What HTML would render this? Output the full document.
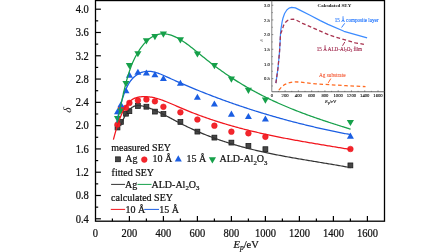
<!DOCTYPE html>
<html><head><meta charset="utf-8"><style>
html,body{margin:0;padding:0;background:#fff;}
svg{display:block;}
text{font-family:"Liberation Serif","Times New Roman",serif;}

</style></head><body>
<svg width="448" height="252" viewBox="0 0 448 252">
<rect width="448" height="252" fill="#fff"/>
<rect x="95.5" y="0.55" width="289.0" height="220.64999999999998" fill="none" stroke="#000" stroke-width="1.3"/>
<line x1="95.5" y1="218.79" x2="100.9" y2="218.79" stroke="#000" stroke-width="1.2"/>
<text transform="translate(88.85,222.54) scale(1,1.1)" text-anchor="end" font-size="10.5" fill="#111" stroke="#111" stroke-width="0.22">0.4</text>
<line x1="95.5" y1="195.5" x2="100.9" y2="195.5" stroke="#000" stroke-width="1.2"/>
<text transform="translate(88.85,199.25) scale(1,1.1)" text-anchor="end" font-size="10.5" fill="#111" stroke="#111" stroke-width="0.22">0.8</text>
<line x1="95.5" y1="172.22" x2="100.9" y2="172.22" stroke="#000" stroke-width="1.2"/>
<text transform="translate(88.85,175.97) scale(1,1.1)" text-anchor="end" font-size="10.5" fill="#111" stroke="#111" stroke-width="0.22">1.2</text>
<line x1="95.5" y1="148.93" x2="100.9" y2="148.93" stroke="#000" stroke-width="1.2"/>
<text transform="translate(88.85,152.68) scale(1,1.1)" text-anchor="end" font-size="10.5" fill="#111" stroke="#111" stroke-width="0.22">1.6</text>
<line x1="95.5" y1="125.64" x2="100.9" y2="125.64" stroke="#000" stroke-width="1.2"/>
<text transform="translate(88.85,129.39) scale(1,1.1)" text-anchor="end" font-size="10.5" fill="#111" stroke="#111" stroke-width="0.22">2.0</text>
<line x1="95.5" y1="102.35" x2="100.9" y2="102.35" stroke="#000" stroke-width="1.2"/>
<text transform="translate(88.85,106.1) scale(1,1.1)" text-anchor="end" font-size="10.5" fill="#111" stroke="#111" stroke-width="0.22">2.4</text>
<line x1="95.5" y1="79.06" x2="100.9" y2="79.06" stroke="#000" stroke-width="1.2"/>
<text transform="translate(88.85,82.81) scale(1,1.1)" text-anchor="end" font-size="10.5" fill="#111" stroke="#111" stroke-width="0.22">2.8</text>
<line x1="95.5" y1="55.78" x2="100.9" y2="55.78" stroke="#000" stroke-width="1.2"/>
<text transform="translate(88.85,59.53) scale(1,1.1)" text-anchor="end" font-size="10.5" fill="#111" stroke="#111" stroke-width="0.22">3.2</text>
<line x1="95.5" y1="32.49" x2="100.9" y2="32.49" stroke="#000" stroke-width="1.2"/>
<text transform="translate(88.85,36.24) scale(1,1.1)" text-anchor="end" font-size="10.5" fill="#111" stroke="#111" stroke-width="0.22">3.6</text>
<line x1="95.5" y1="9.2" x2="100.9" y2="9.2" stroke="#000" stroke-width="1.2"/>
<text transform="translate(88.85,12.95) scale(1,1.1)" text-anchor="end" font-size="10.5" fill="#111" stroke="#111" stroke-width="0.22">4.0</text>
<line x1="95.5" y1="207.15" x2="98.2" y2="207.15" stroke="#000" stroke-width="1.2"/>
<line x1="95.5" y1="183.86" x2="98.2" y2="183.86" stroke="#000" stroke-width="1.2"/>
<line x1="95.5" y1="160.57" x2="98.2" y2="160.57" stroke="#000" stroke-width="1.2"/>
<line x1="95.5" y1="137.28" x2="98.2" y2="137.28" stroke="#000" stroke-width="1.2"/>
<line x1="95.5" y1="114" x2="98.2" y2="114" stroke="#000" stroke-width="1.2"/>
<line x1="95.5" y1="90.71" x2="98.2" y2="90.71" stroke="#000" stroke-width="1.2"/>
<line x1="95.5" y1="67.42" x2="98.2" y2="67.42" stroke="#000" stroke-width="1.2"/>
<line x1="95.5" y1="44.13" x2="98.2" y2="44.13" stroke="#000" stroke-width="1.2"/>
<line x1="95.5" y1="20.84" x2="98.2" y2="20.84" stroke="#000" stroke-width="1.2"/>
<line x1="95.5" y1="-2.44" x2="98.2" y2="-2.44" stroke="#000" stroke-width="1.2"/>
<line x1="129.4" y1="221.2" x2="129.4" y2="216.0" stroke="#000" stroke-width="1.2"/>
<line x1="163.4" y1="221.2" x2="163.4" y2="216.0" stroke="#000" stroke-width="1.2"/>
<line x1="197.4" y1="221.2" x2="197.4" y2="216.0" stroke="#000" stroke-width="1.2"/>
<line x1="231.4" y1="221.2" x2="231.4" y2="216.0" stroke="#000" stroke-width="1.2"/>
<line x1="265.4" y1="221.2" x2="265.4" y2="216.0" stroke="#000" stroke-width="1.2"/>
<line x1="299.4" y1="221.2" x2="299.4" y2="216.0" stroke="#000" stroke-width="1.2"/>
<line x1="333.4" y1="221.2" x2="333.4" y2="216.0" stroke="#000" stroke-width="1.2"/>
<line x1="367.4" y1="221.2" x2="367.4" y2="216.0" stroke="#000" stroke-width="1.2"/>
<text transform="translate(95.4,236.6) scale(1,1.1)" text-anchor="middle" font-size="10.5" fill="#111" stroke="#111" stroke-width="0.22">0</text>
<text transform="translate(129.4,236.6) scale(1,1.1)" text-anchor="middle" font-size="10.5" fill="#111" stroke="#111" stroke-width="0.22">200</text>
<text transform="translate(163.4,236.6) scale(1,1.1)" text-anchor="middle" font-size="10.5" fill="#111" stroke="#111" stroke-width="0.22">400</text>
<text transform="translate(197.4,236.6) scale(1,1.1)" text-anchor="middle" font-size="10.5" fill="#111" stroke="#111" stroke-width="0.22">600</text>
<text transform="translate(231.4,236.6) scale(1,1.1)" text-anchor="middle" font-size="10.5" fill="#111" stroke="#111" stroke-width="0.22">800</text>
<text transform="translate(265.4,236.6) scale(1,1.1)" text-anchor="middle" font-size="10.5" fill="#111" stroke="#111" stroke-width="0.22">1000</text>
<text transform="translate(299.4,236.6) scale(1,1.1)" text-anchor="middle" font-size="10.5" fill="#111" stroke="#111" stroke-width="0.22">1200</text>
<text transform="translate(333.4,236.6) scale(1,1.1)" text-anchor="middle" font-size="10.5" fill="#111" stroke="#111" stroke-width="0.22">1400</text>
<text transform="translate(367.4,236.6) scale(1,1.1)" text-anchor="middle" font-size="10.5" fill="#111" stroke="#111" stroke-width="0.22">1600</text>
<line x1="112.4" y1="221.2" x2="112.4" y2="218.6" stroke="#000" stroke-width="1.2"/>
<line x1="146.4" y1="221.2" x2="146.4" y2="218.6" stroke="#000" stroke-width="1.2"/>
<line x1="180.4" y1="221.2" x2="180.4" y2="218.6" stroke="#000" stroke-width="1.2"/>
<line x1="214.4" y1="221.2" x2="214.4" y2="218.6" stroke="#000" stroke-width="1.2"/>
<line x1="248.4" y1="221.2" x2="248.4" y2="218.6" stroke="#000" stroke-width="1.2"/>
<line x1="282.4" y1="221.2" x2="282.4" y2="218.6" stroke="#000" stroke-width="1.2"/>
<line x1="316.4" y1="221.2" x2="316.4" y2="218.6" stroke="#000" stroke-width="1.2"/>
<line x1="350.4" y1="221.2" x2="350.4" y2="218.6" stroke="#000" stroke-width="1.2"/>
<text x="233.5" y="247.7" font-size="10.5" fill="#111" stroke="#111" stroke-width="0.22"><tspan font-style="italic">E</tspan><tspan font-size="7.5" font-style="italic" dy="2.6">p</tspan><tspan dy="-2.6">/eV</tspan></text>
<text transform="translate(70.8,110.5) rotate(-90) skewX(-8)" text-anchor="middle" font-size="11" fill="#111" font-style="italic">δ</text>
<rect x="115.05" y="125.05" width="4.9" height="4.9" fill="#474747" stroke="#151515" stroke-width="0.7"/>
<rect x="118.45" y="119.45" width="4.9" height="4.9" fill="#474747" stroke="#151515" stroke-width="0.7"/>
<rect x="123.55" y="111.25" width="4.9" height="4.9" fill="#474747" stroke="#151515" stroke-width="0.7"/>
<rect x="126.95" y="108.75" width="4.9" height="4.9" fill="#474747" stroke="#151515" stroke-width="0.7"/>
<rect x="135.45" y="103.55" width="4.9" height="4.9" fill="#474747" stroke="#151515" stroke-width="0.7"/>
<rect x="143.95" y="104.25" width="4.9" height="4.9" fill="#474747" stroke="#151515" stroke-width="0.7"/>
<rect x="152.45" y="109.15" width="4.9" height="4.9" fill="#474747" stroke="#151515" stroke-width="0.7"/>
<rect x="160.95" y="111.55" width="4.9" height="4.9" fill="#474747" stroke="#151515" stroke-width="0.7"/>
<rect x="177.95" y="119.45" width="4.9" height="4.9" fill="#474747" stroke="#151515" stroke-width="0.7"/>
<rect x="194.95" y="129.15" width="4.9" height="4.9" fill="#474747" stroke="#151515" stroke-width="0.7"/>
<rect x="211.95" y="135.15" width="4.9" height="4.9" fill="#474747" stroke="#151515" stroke-width="0.7"/>
<rect x="228.95" y="140.15" width="4.9" height="4.9" fill="#474747" stroke="#151515" stroke-width="0.7"/>
<rect x="245.95" y="143.35" width="4.9" height="4.9" fill="#474747" stroke="#151515" stroke-width="0.7"/>
<rect x="262.95" y="146.75" width="4.9" height="4.9" fill="#474747" stroke="#151515" stroke-width="0.7"/>
<rect x="347.95" y="162.95" width="4.9" height="4.9" fill="#474747" stroke="#151515" stroke-width="0.7"/>
<circle cx="117.5" cy="124.5" r="2.85" fill="#f3262c" stroke="#e8121a" stroke-width="0.5"/>
<circle cx="120.9" cy="108.1" r="2.85" fill="#f3262c" stroke="#e8121a" stroke-width="0.5"/>
<circle cx="126" cy="107.8" r="2.85" fill="#f3262c" stroke="#e8121a" stroke-width="0.5"/>
<circle cx="129.4" cy="102.9" r="2.85" fill="#f3262c" stroke="#e8121a" stroke-width="0.5"/>
<circle cx="137.9" cy="100.4" r="2.85" fill="#f3262c" stroke="#e8121a" stroke-width="0.5"/>
<circle cx="146.4" cy="99.4" r="2.85" fill="#f3262c" stroke="#e8121a" stroke-width="0.5"/>
<circle cx="154.9" cy="101.3" r="2.85" fill="#f3262c" stroke="#e8121a" stroke-width="0.5"/>
<circle cx="163.4" cy="106.8" r="2.85" fill="#f3262c" stroke="#e8121a" stroke-width="0.5"/>
<circle cx="180.4" cy="112.3" r="2.85" fill="#f3262c" stroke="#e8121a" stroke-width="0.5"/>
<circle cx="197.4" cy="119.5" r="2.85" fill="#f3262c" stroke="#e8121a" stroke-width="0.5"/>
<circle cx="214.4" cy="125.7" r="2.85" fill="#f3262c" stroke="#e8121a" stroke-width="0.5"/>
<circle cx="231.4" cy="131.7" r="2.85" fill="#f3262c" stroke="#e8121a" stroke-width="0.5"/>
<circle cx="248.4" cy="133.3" r="2.85" fill="#f3262c" stroke="#e8121a" stroke-width="0.5"/>
<circle cx="265.4" cy="136.8" r="2.85" fill="#f3262c" stroke="#e8121a" stroke-width="0.5"/>
<circle cx="350.4" cy="149" r="2.85" fill="#f3262c" stroke="#e8121a" stroke-width="0.5"/>
<path d="M117.5,108.25 L121,114.35 L114,114.35 Z" fill="#1b5ee2"/>
<path d="M120.9,101.25 L124.4,107.35 L117.4,107.35 Z" fill="#1b5ee2"/>
<path d="M126,87.25 L129.5,93.35 L122.5,93.35 Z" fill="#1b5ee2"/>
<path d="M129.4,71.55 L132.9,77.65 L125.9,77.65 Z" fill="#1b5ee2"/>
<path d="M137.9,68.65 L141.4,74.75 L134.4,74.75 Z" fill="#1b5ee2"/>
<path d="M146.4,69.45 L149.9,75.55 L142.9,75.55 Z" fill="#1b5ee2"/>
<path d="M154.9,71.25 L158.4,77.35 L151.4,77.35 Z" fill="#1b5ee2"/>
<path d="M163.4,74.95 L166.9,81.05 L159.9,81.05 Z" fill="#1b5ee2"/>
<path d="M180.4,79.75 L183.9,85.85 L176.9,85.85 Z" fill="#1b5ee2"/>
<path d="M197.4,93.75 L200.9,99.85 L193.9,99.85 Z" fill="#1b5ee2"/>
<path d="M214.4,100.45 L217.9,106.55 L210.9,106.55 Z" fill="#1b5ee2"/>
<path d="M231.4,110.55 L234.9,116.65 L227.9,116.65 Z" fill="#1b5ee2"/>
<path d="M248.4,112.95 L251.9,119.05 L244.9,119.05 Z" fill="#1b5ee2"/>
<path d="M265.4,115.45 L268.9,121.55 L261.9,121.55 Z" fill="#1b5ee2"/>
<path d="M350.4,132.55 L353.9,138.65 L346.9,138.65 Z" fill="#1b5ee2"/>
<path d="M113.9,116.1 L121.1,116.1 L117.5,122.3 Z" fill="#16a04a"/>
<path d="M117.3,108.4 L124.5,108.4 L120.9,114.6 Z" fill="#16a04a"/>
<path d="M122.4,81.1 L129.6,81.1 L126,87.3 Z" fill="#16a04a"/>
<path d="M125.8,63 L133,63 L129.4,69.2 Z" fill="#16a04a"/>
<path d="M134.3,51.15 L141.5,51.15 L137.9,57.35 Z" fill="#16a04a"/>
<path d="M142.8,38.3 L150,38.3 L146.4,44.5 Z" fill="#16a04a"/>
<path d="M151.3,34 L158.5,34 L154.9,40.2 Z" fill="#16a04a"/>
<path d="M159.8,31.45 L167,31.45 L163.4,37.65 Z" fill="#16a04a"/>
<path d="M176.8,37.3 L184,37.3 L180.4,43.5 Z" fill="#16a04a"/>
<path d="M193.8,51.4 L201,51.4 L197.4,57.6 Z" fill="#16a04a"/>
<path d="M210.8,63.1 L218,63.1 L214.4,69.3 Z" fill="#16a04a"/>
<path d="M227.8,76.6 L235,76.6 L231.4,82.8 Z" fill="#16a04a"/>
<path d="M244.8,87.7 L252,87.7 L248.4,93.9 Z" fill="#16a04a"/>
<path d="M261.8,97.5 L269,97.5 L265.4,103.7 Z" fill="#16a04a"/>
<path d="M346.8,119.9 L354,119.9 L350.4,126.1 Z" fill="#16a04a"/>
<path d="M120.6,125.95 L121.76,122.88 L122.91,120.12 L124.07,117.65 L125.22,115.46 L126.38,113.53 L127.53,111.84 L128.69,110.4 L129.85,109.17 L131,108.15 L132.16,107.31 L133.31,106.66 L134.47,106.16 L135.63,105.82 L136.78,105.6 L137.94,105.51 L139.09,105.52 L140.25,105.62 L141.4,105.8 L142.56,106.03 L143.72,106.32 L144.87,106.64 L146.03,106.98 L147.18,107.34 L148.34,107.73 L149.49,108.14 L150.65,108.57 L151.81,109.02 L152.96,109.49 L154.12,109.97 L155.27,110.48 L156.43,110.99 L157.58,111.52 L158.74,112.07 L159.9,112.62 L161.05,113.19 L162.21,113.77 L163.36,114.35 L164.52,114.95 L165.68,115.55 L166.83,116.16 L167.99,116.77 L169.14,117.38 L170.3,118 L171.45,118.62 L172.61,119.24 L173.77,119.86 L174.92,120.48 L176.08,121.1 L177.23,121.71 L178.39,122.32 L179.54,122.92 L180.7,123.51 L181.86,124.1 L183.01,124.68 L184.17,125.26 L185.32,125.83 L186.48,126.39 L187.64,126.94 L188.79,127.49 L189.95,128.04 L191.1,128.57 L192.26,129.1 L193.41,129.63 L194.57,130.14 L195.73,130.66 L196.88,131.16 L198.04,131.66 L199.19,132.16 L200.35,132.64 L201.5,133.13 L202.66,133.6 L203.82,134.07 L204.97,134.54 L206.13,135 L207.28,135.45 L208.44,135.9 L209.59,136.34 L210.75,136.78 L211.91,137.22 L213.06,137.64 L214.22,138.07 L215.37,138.48 L216.53,138.9 L217.69,139.3 L218.84,139.7 L220,140.1 L221.15,140.49 L222.31,140.88 L223.46,141.27 L224.62,141.64 L225.78,142.02 L226.93,142.39 L228.09,142.75 L229.24,143.11 L230.4,143.47 L231.55,143.82 L232.71,144.17 L233.87,144.51 L235.02,144.85 L236.18,145.19 L237.33,145.52 L238.49,145.85 L239.65,146.17 L240.8,146.49 L241.96,146.8 L243.11,147.12 L244.27,147.42 L245.42,147.73 L246.58,148.03 L247.74,148.33 L248.89,148.62 L250.05,148.91 L251.2,149.2 L252.36,149.48 L253.51,149.76 L254.67,150.04 L255.83,150.32 L256.98,150.59 L258.14,150.86 L259.29,151.12 L260.45,151.38 L261.61,151.64 L262.76,151.9 L263.92,152.15 L265.07,152.41 L266.23,152.66 L267.38,152.9 L268.54,153.15 L269.7,153.39 L270.85,153.63 L272.01,153.86 L273.16,154.1 L274.32,154.33 L275.47,154.56 L276.63,154.79 L277.79,155.01 L278.94,155.24 L280.1,155.46 L281.25,155.68 L282.41,155.9 L283.56,156.12 L284.72,156.33 L285.88,156.55 L287.03,156.76 L288.19,156.97 L289.34,157.18 L290.5,157.38 L291.66,157.59 L292.81,157.8 L293.97,158 L295.12,158.2 L296.28,158.4 L297.43,158.6 L298.59,158.8 L299.75,159 L300.9,159.2 L302.06,159.39 L303.21,159.59 L304.37,159.78 L305.52,159.98 L306.68,160.17 L307.84,160.37 L308.99,160.56 L310.15,160.75 L311.3,160.94 L312.46,161.13 L313.62,161.33 L314.77,161.52 L315.93,161.71 L317.08,161.9 L318.24,162.09 L319.39,162.28 L320.55,162.47 L321.71,162.66 L322.86,162.85 L324.02,163.04 L325.17,163.23 L326.33,163.43 L327.48,163.62 L328.64,163.81 L329.8,164 L330.95,164.2 L332.11,164.39 L333.26,164.59 L334.42,164.78 L335.57,164.98 L336.73,165.18 L337.89,165.38 L339.04,165.58 L340.2,165.78 L341.35,165.98 L342.51,166.18 L343.67,166.39 L344.82,166.59 L345.98,166.8 L347.13,167.01 L348.29,167.22 L349.44,167.43 L350.6,167.64" fill="none" stroke="#333333" stroke-width="1.2" stroke-linejoin="round" stroke-linecap="butt" />
<path d="M113.4,139.65 L114.59,135.1 L115.78,130.85 L116.98,126.9 L118.17,123.23 L119.36,119.85 L120.55,116.75 L121.74,113.92 L122.94,111.36 L124.13,109.06 L125.32,107.01 L126.51,105.21 L127.7,103.64 L128.9,102.29 L130.09,101.14 L131.28,100.17 L132.47,99.36 L133.66,98.69 L134.86,98.16 L136.05,97.73 L137.24,97.4 L138.43,97.14 L139.62,96.94 L140.82,96.79 L142.01,96.68 L143.2,96.61 L144.39,96.59 L145.58,96.6 L146.77,96.66 L147.97,96.75 L149.16,96.88 L150.35,97.04 L151.54,97.23 L152.73,97.45 L153.93,97.7 L155.12,97.98 L156.31,98.29 L157.5,98.62 L158.69,98.98 L159.89,99.35 L161.08,99.75 L162.27,100.17 L163.46,100.6 L164.65,101.05 L165.85,101.51 L167.04,101.99 L168.23,102.47 L169.42,102.97 L170.61,103.48 L171.81,103.99 L173,104.51 L174.19,105.03 L175.38,105.55 L176.57,106.08 L177.77,106.6 L178.96,107.12 L180.15,107.64 L181.34,108.15 L182.53,108.66 L183.73,109.16 L184.92,109.66 L186.11,110.15 L187.3,110.64 L188.49,111.13 L189.69,111.61 L190.88,112.08 L192.07,112.55 L193.26,113.02 L194.45,113.48 L195.65,113.94 L196.84,114.39 L198.03,114.84 L199.22,115.28 L200.41,115.72 L201.61,116.16 L202.8,116.59 L203.99,117.01 L205.18,117.44 L206.37,117.86 L207.56,118.27 L208.76,118.68 L209.95,119.09 L211.14,119.49 L212.33,119.89 L213.52,120.28 L214.72,120.67 L215.91,121.06 L217.1,121.44 L218.29,121.82 L219.48,122.2 L220.68,122.57 L221.87,122.94 L223.06,123.3 L224.25,123.66 L225.44,124.02 L226.64,124.38 L227.83,124.73 L229.02,125.07 L230.21,125.42 L231.4,125.76 L232.6,126.1 L233.79,126.43 L234.98,126.76 L236.17,127.09 L237.36,127.41 L238.56,127.74 L239.75,128.05 L240.94,128.37 L242.13,128.68 L243.32,128.99 L244.52,129.3 L245.71,129.6 L246.9,129.9 L248.09,130.2 L249.28,130.5 L250.48,130.79 L251.67,131.08 L252.86,131.37 L254.05,131.65 L255.24,131.93 L256.44,132.21 L257.63,132.49 L258.82,132.76 L260.01,133.04 L261.2,133.31 L262.39,133.57 L263.59,133.84 L264.78,134.1 L265.97,134.36 L267.16,134.62 L268.35,134.88 L269.55,135.13 L270.74,135.38 L271.93,135.63 L273.12,135.88 L274.31,136.13 L275.51,136.37 L276.7,136.61 L277.89,136.86 L279.08,137.09 L280.27,137.33 L281.47,137.57 L282.66,137.8 L283.85,138.03 L285.04,138.26 L286.23,138.49 L287.43,138.72 L288.62,138.94 L289.81,139.17 L291,139.39 L292.19,139.61 L293.39,139.83 L294.58,140.05 L295.77,140.26 L296.96,140.48 L298.15,140.69 L299.35,140.91 L300.54,141.12 L301.73,141.33 L302.92,141.54 L304.11,141.75 L305.31,141.96 L306.5,142.17 L307.69,142.37 L308.88,142.58 L310.07,142.78 L311.27,142.99 L312.46,143.19 L313.65,143.39 L314.84,143.59 L316.03,143.79 L317.23,143.99 L318.42,144.19 L319.61,144.39 L320.8,144.59 L321.99,144.79 L323.18,144.99 L324.38,145.18 L325.57,145.38 L326.76,145.58 L327.95,145.77 L329.14,145.97 L330.34,146.17 L331.53,146.36 L332.72,146.56 L333.91,146.75 L335.1,146.95 L336.3,147.15 L337.49,147.34 L338.68,147.54 L339.87,147.73 L341.06,147.93 L342.26,148.12 L343.45,148.32 L344.64,148.52 L345.83,148.71 L347.02,148.91 L348.22,149.11 L349.41,149.31 L350.6,149.51" fill="none" stroke="#f2141c" stroke-width="1.25" stroke-linejoin="round" stroke-linecap="butt" />
<path d="M116.8,122.31 L117.97,116.46 L119.15,111.13 L120.32,106.3 L121.5,101.94 L122.67,98.02 L123.85,94.51 L125.02,91.38 L126.2,88.61 L127.37,86.16 L128.55,84 L129.72,82.12 L130.9,80.48 L132.07,79.05 L133.25,77.8 L134.42,76.71 L135.6,75.74 L136.77,74.88 L137.95,74.12 L139.12,73.47 L140.3,72.9 L141.47,72.43 L142.65,72.05 L143.82,71.75 L145,71.52 L146.17,71.38 L147.35,71.3 L148.52,71.29 L149.7,71.34 L150.87,71.46 L152.05,71.63 L153.22,71.85 L154.4,72.12 L155.57,72.43 L156.75,72.78 L157.92,73.17 L159.1,73.59 L160.27,74.04 L161.45,74.51 L162.62,75.01 L163.79,75.52 L164.97,76.04 L166.14,76.57 L167.32,77.11 L168.49,77.64 L169.67,78.18 L170.84,78.71 L172.02,79.24 L173.19,79.77 L174.37,80.29 L175.54,80.81 L176.72,81.33 L177.89,81.85 L179.07,82.37 L180.24,82.88 L181.42,83.39 L182.59,83.9 L183.77,84.41 L184.94,84.91 L186.12,85.41 L187.29,85.91 L188.47,86.41 L189.64,86.9 L190.82,87.39 L191.99,87.88 L193.17,88.37 L194.34,88.85 L195.52,89.34 L196.69,89.82 L197.87,90.29 L199.04,90.77 L200.22,91.24 L201.39,91.71 L202.57,92.18 L203.74,92.65 L204.92,93.11 L206.09,93.57 L207.27,94.03 L208.44,94.49 L209.62,94.94 L210.79,95.4 L211.96,95.85 L213.14,96.3 L214.31,96.74 L215.49,97.19 L216.66,97.63 L217.84,98.07 L219.01,98.5 L220.19,98.94 L221.36,99.37 L222.54,99.8 L223.71,100.23 L224.89,100.65 L226.06,101.08 L227.24,101.5 L228.41,101.92 L229.59,102.34 L230.76,102.75 L231.94,103.16 L233.11,103.58 L234.29,103.98 L235.46,104.39 L236.64,104.79 L237.81,105.2 L238.99,105.6 L240.16,106 L241.34,106.39 L242.51,106.78 L243.69,107.18 L244.86,107.57 L246.04,107.95 L247.21,108.34 L248.39,108.72 L249.56,109.1 L250.74,109.48 L251.91,109.86 L253.09,110.23 L254.26,110.61 L255.44,110.98 L256.61,111.35 L257.78,111.71 L258.96,112.08 L260.13,112.44 L261.31,112.8 L262.48,113.16 L263.66,113.52 L264.83,113.87 L266.01,114.22 L267.18,114.57 L268.36,114.92 L269.53,115.27 L270.71,115.61 L271.88,115.95 L273.06,116.3 L274.23,116.63 L275.41,116.97 L276.58,117.3 L277.76,117.64 L278.93,117.97 L280.11,118.3 L281.28,118.62 L282.46,118.95 L283.63,119.27 L284.81,119.59 L285.98,119.91 L287.16,120.23 L288.33,120.54 L289.51,120.86 L290.68,121.17 L291.86,121.48 L293.03,121.79 L294.21,122.09 L295.38,122.4 L296.56,122.7 L297.73,123 L298.91,123.3 L300.08,123.59 L301.26,123.89 L302.43,124.18 L303.61,124.47 L304.78,124.76 L305.95,125.05 L307.13,125.33 L308.3,125.62 L309.48,125.9 L310.65,126.18 L311.83,126.45 L313,126.73 L314.18,127.01 L315.35,127.28 L316.53,127.55 L317.7,127.82 L318.88,128.09 L320.05,128.35 L321.23,128.62 L322.4,128.88 L323.58,129.14 L324.75,129.4 L325.93,129.65 L327.1,129.91 L328.28,130.16 L329.45,130.41 L330.63,130.66 L331.8,130.91 L332.98,131.16 L334.15,131.4 L335.33,131.64 L336.5,131.89 L337.68,132.13 L338.85,132.36 L340.03,132.6 L341.2,132.83 L342.38,133.07 L343.55,133.3 L344.73,133.53 L345.9,133.76 L347.08,133.98 L348.25,134.21 L349.43,134.43 L350.6,134.65" fill="none" stroke="#1b5ee2" stroke-width="1.25" stroke-linejoin="round" stroke-linecap="butt" />
<path d="M117.2,122.67 L118.37,116.97 L119.55,111.32 L120.72,105.75 L121.89,100.31 L123.06,95.04 L124.24,89.98 L125.41,85.17 L126.58,80.66 L127.76,76.48 L128.93,72.66 L130.1,69.18 L131.27,66 L132.45,63.11 L133.62,60.46 L134.79,58.03 L135.97,55.79 L137.14,53.71 L138.31,51.76 L139.48,49.93 L140.66,48.21 L141.83,46.6 L143,45.1 L144.18,43.7 L145.35,42.41 L146.52,41.22 L147.69,40.12 L148.87,39.12 L150.04,38.22 L151.21,37.41 L152.39,36.68 L153.56,36.04 L154.73,35.49 L155.9,35.01 L157.08,34.62 L158.25,34.3 L159.42,34.06 L160.6,33.89 L161.77,33.79 L162.94,33.76 L164.11,33.79 L165.29,33.88 L166.46,34.04 L167.63,34.25 L168.81,34.52 L169.98,34.84 L171.15,35.21 L172.32,35.63 L173.5,36.09 L174.67,36.6 L175.84,37.15 L177.02,37.74 L178.19,38.37 L179.36,39.03 L180.53,39.72 L181.71,40.45 L182.88,41.21 L184.05,41.99 L185.23,42.8 L186.4,43.63 L187.57,44.48 L188.74,45.35 L189.92,46.24 L191.09,47.15 L192.26,48.07 L193.44,49 L194.61,49.94 L195.78,50.89 L196.95,51.84 L198.13,52.8 L199.3,53.77 L200.47,54.73 L201.65,55.69 L202.82,56.64 L203.99,57.59 L205.16,58.54 L206.34,59.47 L207.51,60.4 L208.68,61.32 L209.86,62.24 L211.03,63.14 L212.2,64.04 L213.37,64.93 L214.55,65.81 L215.72,66.69 L216.89,67.55 L218.07,68.41 L219.24,69.27 L220.41,70.11 L221.58,70.95 L222.76,71.78 L223.93,72.6 L225.1,73.41 L226.28,74.22 L227.45,75.01 L228.62,75.81 L229.79,76.59 L230.97,77.36 L232.14,78.13 L233.31,78.89 L234.49,79.64 L235.66,80.39 L236.83,81.13 L238.01,81.86 L239.18,82.59 L240.35,83.3 L241.52,84.01 L242.7,84.72 L243.87,85.41 L245.04,86.1 L246.22,86.79 L247.39,87.46 L248.56,88.13 L249.73,88.8 L250.91,89.45 L252.08,90.11 L253.25,90.75 L254.43,91.39 L255.6,92.02 L256.77,92.65 L257.94,93.27 L259.12,93.88 L260.29,94.49 L261.46,95.09 L262.64,95.69 L263.81,96.28 L264.98,96.87 L266.15,97.45 L267.33,98.02 L268.5,98.59 L269.67,99.16 L270.85,99.72 L272.02,100.27 L273.19,100.82 L274.36,101.36 L275.54,101.9 L276.71,102.43 L277.88,102.96 L279.06,103.49 L280.23,104.01 L281.4,104.52 L282.57,105.03 L283.75,105.54 L284.92,106.04 L286.09,106.54 L287.27,107.03 L288.44,107.52 L289.61,108 L290.78,108.48 L291.96,108.96 L293.13,109.43 L294.3,109.9 L295.48,110.36 L296.65,110.82 L297.82,111.28 L298.99,111.74 L300.17,112.19 L301.34,112.63 L302.51,113.07 L303.69,113.51 L304.86,113.95 L306.03,114.38 L307.2,114.81 L308.38,115.24 L309.55,115.67 L310.72,116.09 L311.9,116.51 L313.07,116.92 L314.24,117.33 L315.41,117.74 L316.59,118.15 L317.76,118.56 L318.93,118.96 L320.11,119.36 L321.28,119.76 L322.45,120.15 L323.62,120.55 L324.8,120.94 L325.97,121.33 L327.14,121.71 L328.32,122.1 L329.49,122.48 L330.66,122.86 L331.83,123.24 L333.01,123.62 L334.18,124 L335.35,124.37 L336.53,124.75 L337.7,125.12 L338.87,125.49 L340.04,125.86 L341.22,126.23 L342.39,126.6 L343.56,126.97 L344.74,127.33 L345.91,127.7 L347.08,128.06 L348.25,128.42 L349.43,128.79 L350.6,129.15" fill="none" stroke="#16a04a" stroke-width="1.25" stroke-linejoin="round" stroke-linecap="butt" />
<text x="111.3" y="150.9" font-size="10" fill="#111" stroke="#111" stroke-width="0.22">measured SEY</text>
<rect x="115.6" y="156.85" width="4.9" height="4.9" fill="#474747" stroke="#151515" stroke-width="0.7"/>
<text x="125.2" y="162.4" font-size="10" fill="#111" stroke="#111" stroke-width="0.22">Ag</text>
<circle cx="144.3" cy="159.6" r="2.85" fill="#f3262c" stroke="#e8121a" stroke-width="0.5"/>
<text x="152.4" y="162.4" font-size="10" fill="#111" stroke="#111" stroke-width="0.22">10 Å</text>
<path d="M178.3,155.35 L181.8,161.45 L174.8,161.45 Z" fill="#1b5ee2"/>
<text x="186.4" y="162.4" font-size="10" fill="#111" stroke="#111" stroke-width="0.22">15 Å</text>
<path d="M208.8,157.2 L216,157.2 L212.4,163.4 Z" fill="#16a04a"/>
<text x="219.5" y="162.4" font-size="10" fill="#111" stroke="#111" stroke-width="0.22">ALD-Al<tspan font-size="6.8" dy="2.8">2</tspan><tspan dy="-2.8">O</tspan><tspan font-size="6.8" dy="2.8">3</tspan></text>
<text x="111.6" y="176.1" font-size="10" fill="#111" stroke="#111" stroke-width="0.22">fitted SEY</text>
<line x1="111.1" y1="184.4" x2="125" y2="184.4" stroke="#333333" stroke-width="1.0"/>
<text x="125" y="187.5" font-size="10" fill="#111" stroke="#111" stroke-width="0.22">Ag</text>
<line x1="137.5" y1="184.4" x2="151.5" y2="184.4" stroke="#16a04a" stroke-width="1.0"/>
<text x="151.5" y="187.5" font-size="10" fill="#111" stroke="#111" stroke-width="0.22">ALD-Al<tspan font-size="6.8" dy="2.8">2</tspan><tspan dy="-2.8">O</tspan><tspan font-size="6.8" dy="2.8">3</tspan></text>
<text x="111.1" y="201.2" font-size="10" fill="#111" stroke="#111" stroke-width="0.22">calculated SEY</text>
<line x1="110.8" y1="209.4" x2="125.1" y2="209.4" stroke="#f2141c" stroke-width="1.0"/>
<text x="125.6" y="212.8" font-size="10" fill="#111" stroke="#111" stroke-width="0.22">10 Å</text>
<line x1="144.2" y1="209.4" x2="159" y2="209.4" stroke="#1b5ee2" stroke-width="1.0"/>
<text x="159.2" y="212.8" font-size="10" fill="#111" stroke="#111" stroke-width="0.22">15 Å</text>
<line x1="271.8" y1="0.55" x2="271.8" y2="91.75" stroke="#555" stroke-width="0.75"/>
<line x1="271.8" y1="91.75" x2="384.5" y2="91.75" stroke="#555" stroke-width="0.9"/>
<line x1="271.8" y1="78.62" x2="273.3" y2="78.62" stroke="#444" stroke-width="0.6"/>
<text x="269.9" y="80.22" text-anchor="end" font-size="4.7" fill="#111" stroke="#111" stroke-width="0.12">0.5</text>
<line x1="271.8" y1="63.95" x2="273.3" y2="63.95" stroke="#444" stroke-width="0.6"/>
<text x="269.9" y="65.55" text-anchor="end" font-size="4.7" fill="#111" stroke="#111" stroke-width="0.12">1.0</text>
<line x1="271.8" y1="49.28" x2="273.3" y2="49.28" stroke="#444" stroke-width="0.6"/>
<text x="269.9" y="50.88" text-anchor="end" font-size="4.7" fill="#111" stroke="#111" stroke-width="0.12">1.5</text>
<line x1="271.8" y1="34.6" x2="273.3" y2="34.6" stroke="#444" stroke-width="0.6"/>
<text x="269.9" y="36.2" text-anchor="end" font-size="4.7" fill="#111" stroke="#111" stroke-width="0.12">2.0</text>
<line x1="271.8" y1="19.93" x2="273.3" y2="19.93" stroke="#444" stroke-width="0.6"/>
<text x="269.9" y="21.53" text-anchor="end" font-size="4.7" fill="#111" stroke="#111" stroke-width="0.12">2.5</text>
<line x1="271.8" y1="5.25" x2="273.3" y2="5.25" stroke="#444" stroke-width="0.6"/>
<text x="269.9" y="6.85" text-anchor="end" font-size="4.7" fill="#111" stroke="#111" stroke-width="0.12">3.0</text>
<line x1="271.8" y1="85.96" x2="272.8" y2="85.96" stroke="#444" stroke-width="0.6"/>
<line x1="271.8" y1="71.29" x2="272.8" y2="71.29" stroke="#444" stroke-width="0.6"/>
<line x1="271.8" y1="56.61" x2="272.8" y2="56.61" stroke="#444" stroke-width="0.6"/>
<line x1="271.8" y1="41.94" x2="272.8" y2="41.94" stroke="#444" stroke-width="0.6"/>
<line x1="271.8" y1="27.26" x2="272.8" y2="27.26" stroke="#444" stroke-width="0.6"/>
<line x1="271.8" y1="12.59" x2="272.8" y2="12.59" stroke="#444" stroke-width="0.6"/>
<text x="271.83" y="97.4" text-anchor="middle" font-size="4.7" fill="#111" stroke="#111" stroke-width="0.12">0</text>
<line x1="285.1" y1="91.75" x2="285.1" y2="90.35" stroke="#444" stroke-width="0.6"/>
<text x="285.1" y="97.4" text-anchor="middle" font-size="4.7" fill="#111" stroke="#111" stroke-width="0.12">200</text>
<line x1="298.37" y1="91.75" x2="298.37" y2="90.35" stroke="#444" stroke-width="0.6"/>
<text x="298.37" y="97.4" text-anchor="middle" font-size="4.7" fill="#111" stroke="#111" stroke-width="0.12">400</text>
<line x1="311.65" y1="91.75" x2="311.65" y2="90.35" stroke="#444" stroke-width="0.6"/>
<text x="311.65" y="97.4" text-anchor="middle" font-size="4.7" fill="#111" stroke="#111" stroke-width="0.12">600</text>
<line x1="324.92" y1="91.75" x2="324.92" y2="90.35" stroke="#444" stroke-width="0.6"/>
<text x="324.92" y="97.4" text-anchor="middle" font-size="4.7" fill="#111" stroke="#111" stroke-width="0.12">800</text>
<line x1="338.19" y1="91.75" x2="338.19" y2="90.35" stroke="#444" stroke-width="0.6"/>
<text x="338.19" y="97.4" text-anchor="middle" font-size="4.7" fill="#111" stroke="#111" stroke-width="0.12">1000</text>
<line x1="351.46" y1="91.75" x2="351.46" y2="90.35" stroke="#444" stroke-width="0.6"/>
<text x="351.46" y="97.4" text-anchor="middle" font-size="4.7" fill="#111" stroke="#111" stroke-width="0.12">1200</text>
<line x1="364.73" y1="91.75" x2="364.73" y2="90.35" stroke="#444" stroke-width="0.6"/>
<text x="364.73" y="97.4" text-anchor="middle" font-size="4.7" fill="#111" stroke="#111" stroke-width="0.12">1400</text>
<line x1="378.01" y1="91.75" x2="378.01" y2="90.35" stroke="#444" stroke-width="0.6"/>
<text x="378.01" y="97.4" text-anchor="middle" font-size="4.7" fill="#111" stroke="#111" stroke-width="0.12">1600</text>
<line x1="278.47" y1="91.75" x2="278.47" y2="90.85" stroke="#444" stroke-width="0.6"/>
<line x1="291.74" y1="91.75" x2="291.74" y2="90.85" stroke="#444" stroke-width="0.6"/>
<line x1="305.01" y1="91.75" x2="305.01" y2="90.85" stroke="#444" stroke-width="0.6"/>
<line x1="318.28" y1="91.75" x2="318.28" y2="90.85" stroke="#444" stroke-width="0.6"/>
<line x1="331.55" y1="91.75" x2="331.55" y2="90.85" stroke="#444" stroke-width="0.6"/>
<line x1="344.83" y1="91.75" x2="344.83" y2="90.85" stroke="#444" stroke-width="0.6"/>
<line x1="358.1" y1="91.75" x2="358.1" y2="90.85" stroke="#444" stroke-width="0.6"/>
<line x1="371.37" y1="91.75" x2="371.37" y2="90.85" stroke="#444" stroke-width="0.6"/>
<text x="325.1" y="102.5" font-size="4.7" fill="#111" stroke="#111" stroke-width="0.12"><tspan font-style="italic">E</tspan><tspan font-size="3.4" dy="1.1">p</tspan><tspan dy="-1.1">/eV</tspan></text>
<text transform="translate(262.8,40.7) rotate(-90)" text-anchor="middle" font-style="italic" font-size="5" fill="#333">δ</text>
<text x="317.6" y="6.9" font-weight="bold" font-size="4.95" fill="#111">Calculated SEY</text>
<path d="M275.9,83.2 L278,68 L279.5,52 L280.1,42 L280.5,34 L280.8,30.1 L281.4,26.3 L282.1,21.8 L283,18 L284.6,13.5 L286.8,10 L289,8.1 L291.6,7.45 L295.4,7.9 L299.9,10.1 L310.1,15.2 L320.3,20.6 L328,24.4 L344,31.3 L367.1,37.85" fill="none" stroke="#3b8bff" stroke-width="1.2" stroke-linejoin="round" stroke-linecap="butt" />
<path d="M275.9,83.2 L278,68 L279.5,52 L280.1,42 L280.5,34 L282,30.6 L283.6,25.3 L285.6,22.2 L287.8,20.3 L290.5,19.4 L293.5,19.2 L297,20.5 L302.5,23.3 L311.4,27.3 L320.3,31.1 L330,35.3 L348.5,40.9 L355.3,42.8 L363.9,44.3" fill="none" stroke="#a8324e" stroke-width="1.3" stroke-linejoin="round" stroke-linecap="butt" stroke-dasharray="3.8 2.4"/>
<path d="M278.9,90.1 L281.5,87 L284.5,84.6 L288.3,83 L293.3,81.9 L299.5,82 L307,82.9 L315.75,83.8 L324.5,84.4 L336,85.1 L346,85.7 L356,86.2 L365.5,86.6" fill="none" stroke="#ff6b22" stroke-width="1.3" stroke-linejoin="round" stroke-linecap="butt" stroke-dasharray="3.6 2.6"/>
<text x="334.8" y="21.7" font-size="5.1" fill="#1f74ff" stroke="#1f74ff" stroke-width="0.12">15 Å composite layer</text>
<line x1="344.7" y1="23.3" x2="341.6" y2="27.5" stroke="#1f74ff" stroke-width="0.9"/>
<text x="316.8" y="51.3" font-size="5.1" fill="#9c1f45" stroke="#9c1f45" stroke-width="0.12">15 Å ALD-Al<tspan font-size="3.4" dy="1">2</tspan><tspan dy="-1">O</tspan><tspan font-size="3.4" dy="1">3</tspan><tspan dy="-1"> film</tspan></text>
<line x1="344.8" y1="42" x2="342.5" y2="45.8" stroke="#9c1f45" stroke-width="0.9"/>
<text x="318.9" y="76.9" font-size="5.3" fill="#f45a36" stroke="#f45a36" stroke-width="0.1">Ag substrate</text>
<line x1="330.8" y1="78.6" x2="328.2" y2="82.9" stroke="#ff5514" stroke-width="0.9"/>
</svg>
</body></html>
